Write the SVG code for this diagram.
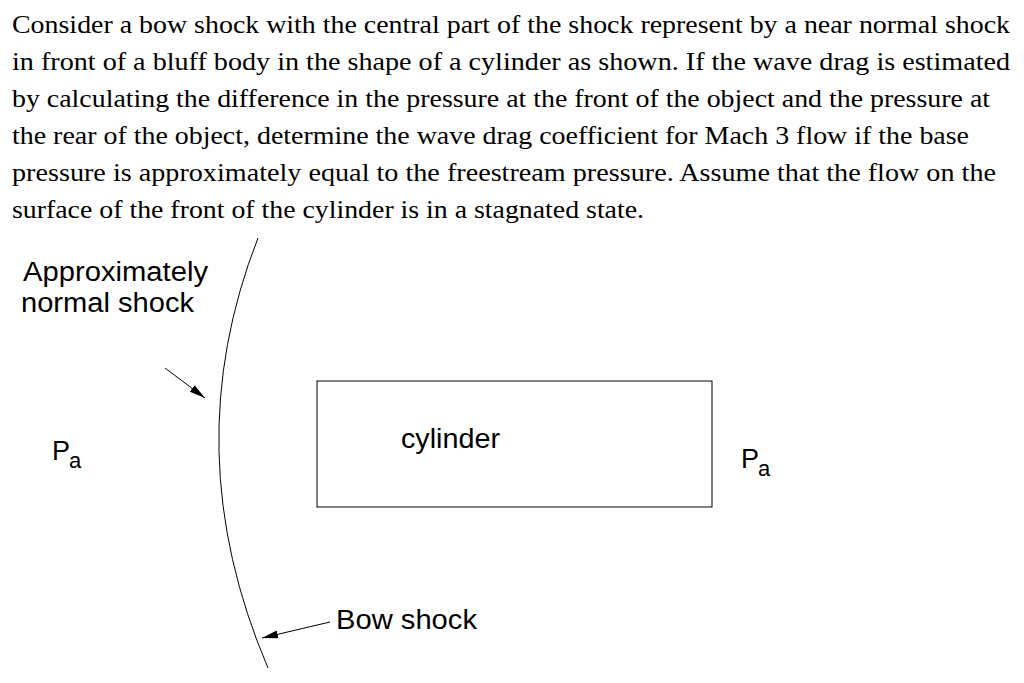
<svg xmlns="http://www.w3.org/2000/svg" width="1024" height="683" viewBox="0 0 1024 683">
<defs>
<style>
.q{font-family:"Liberation Serif",serif;font-size:26px;fill:#000}
.l{font-family:"Liberation Sans",sans-serif;font-size:27px;fill:#000}
.ln{fill:none;stroke:#000;stroke-width:1}
</style>
<marker id="ah" markerWidth="16" markerHeight="8" refX="16" refY="4" orient="auto" markerUnits="userSpaceOnUse">
<path d="M0,0 L16,4 L0,8 Z" fill="#000"/>
</marker>
</defs>
<rect width="1024" height="683" fill="#fff"/>
<g id="question">
<text class="q" x="12" y="33" textLength="998" lengthAdjust="spacingAndGlyphs">Consider a bow shock with the central part of the shock represent by a near normal shock</text>
<text class="q" x="12" y="70" textLength="998" lengthAdjust="spacingAndGlyphs">in front of a bluff body in the shape of a cylinder as shown.  If the wave drag is estimated</text>
<text class="q" x="12" y="107" textLength="978" lengthAdjust="spacingAndGlyphs">by calculating the difference in the pressure at the front of the object and the pressure at</text>
<text class="q" x="12" y="144" textLength="957" lengthAdjust="spacingAndGlyphs">the rear of the object, determine the wave drag coefficient for Mach 3 flow if the base</text>
<text class="q" x="12" y="181" textLength="984" lengthAdjust="spacingAndGlyphs">pressure is approximately equal to the freestream pressure.  Assume that the flow on the</text>
<text class="q" x="12" y="218" textLength="632" lengthAdjust="spacingAndGlyphs">surface of the front of the cylinder is in a stagnated state.</text>
</g>
<g id="shock"><path class="ln" d="M258,238 Q175,450 268,668"/></g>
<g id="cylinder">
<rect class="ln" x="317" y="381" width="395" height="126"/>
<text class="l" x="401" y="448" textLength="99" lengthAdjust="spacingAndGlyphs">cylinder</text>
</g>
<g id="label-normal"><text class="l" x="23" y="281" textLength="185" lengthAdjust="spacingAndGlyphs">Approximately</text><text class="l" x="21" y="312" textLength="173" lengthAdjust="spacingAndGlyphs">normal shock</text></g>
<g id="label-bow"><text class="l" x="336" y="629" textLength="141" lengthAdjust="spacingAndGlyphs">Bow shock</text></g>
<g id="pa-left"><text class="l" x="52" y="460">P<tspan font-size="22" dx="-1" dy="8">a</tspan></text></g>
<g id="pa-right"><text class="l" x="741" y="468">P<tspan font-size="22" dx="-1" dy="8">a</tspan></text></g>
<g id="connectors">
<line class="ln" x1="165" y1="368" x2="205" y2="398" marker-end="url(#ah)"/>
<line class="ln" x1="330" y1="622" x2="262" y2="638" marker-end="url(#ah)"/>
</g>
</svg>
